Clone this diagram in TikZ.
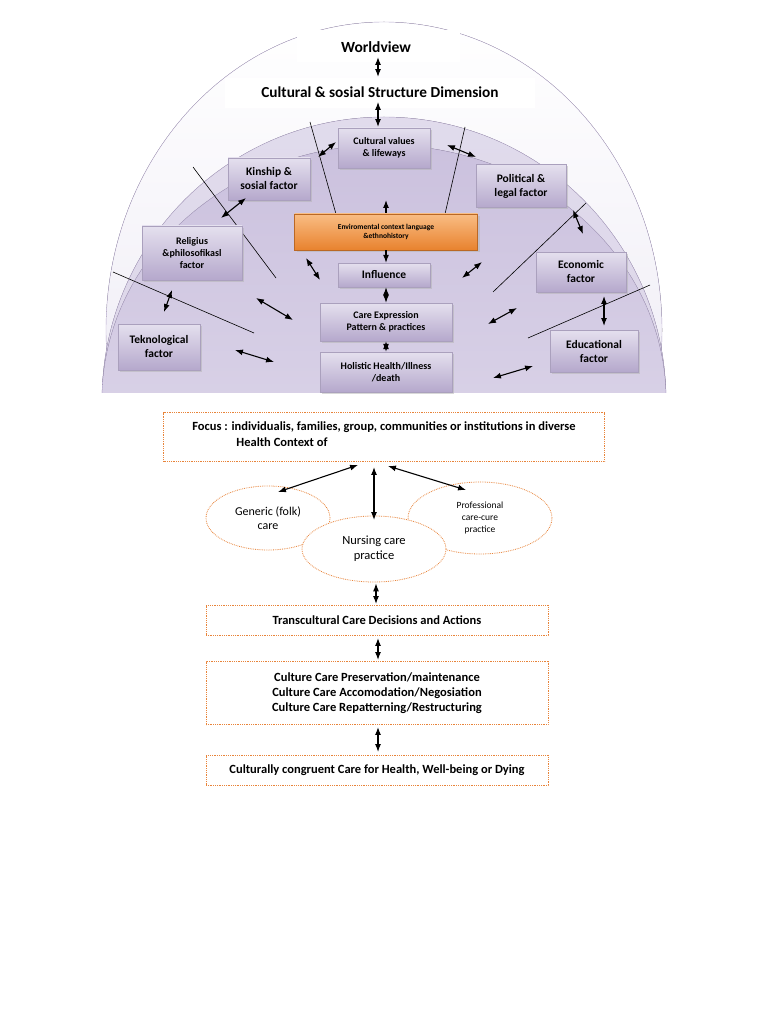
\documentclass[tikz,border=0pt]{standalone}
\usepackage{fontspec}
\setmainfont{Carlito}
\usetikzlibrary{arrows.meta,shadows,shapes.geometric}
\definecolor{lav}{HTML}{D3CBE3}
\definecolor{lavd}{HTML}{B5A8CC}
\definecolor{ell1}{HTML}{E6E2F0}
\definecolor{ell2}{HTML}{D9D2E7}
\definecolor{ell3}{HTML}{CBC1DE}
\definecolor{og}{HTML}{E8822E}
\definecolor{ogl}{HTML}{F9BD84}
\definecolor{dash}{HTML}{E8843A}
\begin{document}
\begin{tikzpicture}[x=1pt,y=-1pt,
 box/.style={draw=lavd!80!gray,line width=0.4pt,top color=lav!60,bottom color=lavd,
   drop shadow={shadow xshift=2pt,shadow yshift=-2pt,fill=gray!60},
   align=center,font=\bfseries\fontsize{10}{12}\selectfont,inner sep=2pt},
 bbox/.style={box,font=\bfseries\fontsize{11.5}{14}\selectfont},
 dbl/.style={Latex-Latex,line width=1.1pt},
 sgl/.style={-Latex,line width=1.1pt},
 ln/.style={line width=0.6pt},
 dbox/.style={draw=dash,densely dotted,line width=0.8pt,align=center,font=\bfseries\fontsize{12.5}{15}\selectfont},
 dell/.style={draw=dash,densely dotted,line width=0.8pt,fill=white,ellipse,align=center}]
\useasboundingbox (0,0) rectangle (768,1024);
\begin{scope}
\clip (0,0) rectangle (768,392);
\fill[top color=white,bottom color=ell1,draw=lavd] (384,330) ellipse [x radius=278,y radius=308];
\fill[top color=ell2!80,bottom color=ell2,draw=lavd] (384,400) ellipse [x radius=282,y radius=283];
\fill[top color=ell3,bottom color=ell3!50!white,draw=lavd] (384,400) ellipse [x radius=282,y radius=255];
\end{scope}
% top boxes
\fill[white] (297,30) rectangle (460,62);
\node[font=\bfseries\fontsize{15.5}{18}\selectfont] (wv) at (376,47) {Worldview};
\fill[white] (225,78) rectangle (535,108);
\node[font=\bfseries\fontsize{15.3}{18}\selectfont] (cs) at (380,92) {Cultural \& sosial Structure Dimension};
\draw[ln] (193,167) -- (276,278);
\draw[ln] (310,122) -- (336,214);
\draw[ln] (465,127) -- (445,214);
\draw[ln] (113,272) -- (254,333);
\draw[ln] (586,203) -- (493,292);
\draw[ln] (528,338) -- (650,285);
\node[box,minimum width=92pt,minimum height=40pt] (cv) at (384,148) {Cultural values\\\& lifeways};
\node[bbox,minimum width=82pt,minimum height=42pt] (kin) at (269,179) {Kinship \&\\sosial factor};
\node[bbox,minimum width=90pt,minimum height=43pt] (pol) at (521,186) {Political \&\\legal factor};
\node[box,minimum width=100pt,minimum height=54pt] (rel) at (192,253) {Religius\\\&philosofikasl\\factor};
\node[draw=og!80!black,top color=ogl,bottom color=og,minimum width=183pt,minimum height=36pt,align=center,
  font=\bfseries\fontsize{7.5}{9}\selectfont,drop shadow={shadow xshift=2pt,shadow yshift=-2pt,fill=gray!60}] (env) at (386,232) {Enviromental context language\\\&ethnohistory};
\node[bbox,minimum width=92pt,minimum height=24pt] (inf) at (384,275) {Influence};
\node[bbox,minimum width=90pt,minimum height=40pt] (eco) at (581,272) {Economic\\factor};
\node[box,minimum width=132pt,minimum height=38pt] (ce) at (386,322) {Care Expression\\Pattern \& practices};
\node[bbox,minimum width=82pt,minimum height=46pt] (tek) at (159,347) {Teknological\\factor};
\node[bbox,minimum width=88pt,minimum height=42pt] (edu) at (594,351) {Educational\\factor};
\node[box,minimum width=132pt,minimum height=40pt] (hol) at (386,372) {Holistic Health/Illness\\/death};
% arrows
\draw[dbl] (wv.south) ++(2,1) coordinate (a1) (a1) -- (378,77);
\draw[dbl] (cs.south) ++(-2,1) coordinate (a2) (a2) -- (378,127);
\draw[dbl] (318,157) -- (336,142);
\draw[dbl] (447,145) -- (476,157);
\draw[dbl] (221,218) -- (246,198);
\draw[dbl] (172,290) -- (164,312);
\draw[dbl] (573,210) -- (583,234);
\draw[dbl] (604,296) -- (604,326);
\draw[sgl] (env.north) ++(0,-1) coordinate (a3) (a3) -- (386,200);
\draw[sgl] (env.south) -- (inf.north -| env.south);
\draw[dbl] (inf.south -| env.south) -- (ce.north);
\draw[dbl] (ce.south) -- (hol.north);
\draw[dbl] (306,258) -- (320,280);
\draw[dbl] (462,278) -- (482,262);
\draw[dbl] (256,298) -- (293,320);
\draw[dbl] (235,350) -- (274,362);
\draw[dbl] (488,324) -- (517,308);
\draw[dbl] (493,378) -- (533,366);
% bottom
\node[dbox,minimum width=441pt,minimum height=49pt] (foc) at (384,437) {};
\node[font=\bfseries\fontsize{12.5}{15}\selectfont] at (384,427) {Focus : individualis, families, group, communities or institutions in diverse};
\node[font=\bfseries\fontsize{12.5}{15}\selectfont] at (282,442) {Health Context of};
\node[dell,minimum width=124pt,minimum height=64pt,font=\fontsize{12}{14}\selectfont] (gen) at (268,518) {Generic (folk)\\care};
\node[dell,minimum width=144pt,minimum height=72pt,font=\fontsize{9.5}{12}\selectfont] (pro) at (480,518) {Professional\\care-cure\\practice};
\node[dell,minimum width=144pt,minimum height=66pt,font=\fontsize{12.5}{15}\selectfont] (nur) at (374,549) {Nursing care\\practice};
\draw[dbl] (358,465) -- (278,492);
\draw[dbl] (374,467) -- (374,520);
\draw[dbl] (388,466) -- (466,490);
\node[dbox,minimum width=342pt,minimum height=30pt] (tr) at (377,620) {Transcultural Care Decisions and Actions};
\node[dbox,minimum width=342pt,minimum height=63pt] (cc) at (377,693) {Culture Care Preservation/maintenance\\Culture Care Accomodation/Negosiation\\Culture Care Repatterning/Restructuring};
\node[dbox,minimum width=342pt,minimum height=30pt] (cg) at (377,770) {Culturally congruent Care for Health, Well-being or Dying};
\draw[dbl] (nur.south) ++(2,1) coordinate (b1) (b1) -- (376,604);
\draw[dbl] (378,638) -- (378,660);
\draw[dbl] (378,727) -- (378,752);
\end{tikzpicture}
\end{document}
